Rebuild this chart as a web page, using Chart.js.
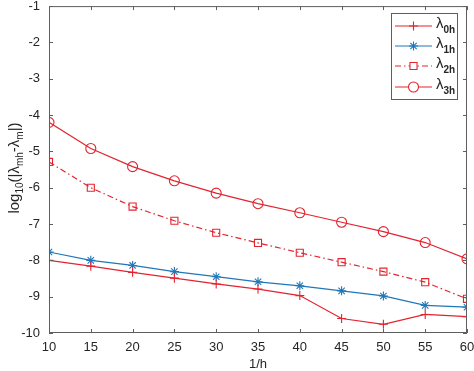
<!DOCTYPE html>
<html><head><meta charset="utf-8">
<script src="https://cdn.jsdelivr.net/npm/chart.js@4"></script>
<style>html,body{margin:0;padding:0;background:#fff}#w{width:474px;height:371px}</style>
</head><body><div id="w"><canvas id="c"></canvas></div>
<script>
const xs = [10,15,20,25,30,35,40,45,50,55,60];
const lam0 = [-8.0,-8.16,-8.33,-8.49,-8.65,-8.79,-8.97,-9.6,-9.76,-9.49,-9.55];
const lam1 = [-7.77,-8.0,-8.14,-8.31,-8.45,-8.59,-8.7,-8.84,-8.98,-9.24,-9.29];
const lam2 = [-5.29,-6.0,-6.52,-6.91,-7.24,-7.52,-7.79,-8.05,-8.31,-8.6,-9.06];
const lam3 = [-4.2,-4.92,-5.42,-5.81,-6.15,-6.44,-6.69,-6.95,-7.21,-7.51,-7.96];
const xTicks = [10,15,20,25,30,35,40,45,50,55,60];
const yTicks = [-10,-9,-8,-7,-6,-5,-4,-3,-2,-1];
const names = [['λ','0h'],['λ','1h'],['λ','2h'],['λ','3h']];

const RED = '#e3242f', BLUE = '#1f77b9', AX = '#5e5e5e', TXT = '#262626';
const FONT = '"Liberation Sans", Arial, sans-serif';

const mk = (d, c, style, r, dash) => ({
  data: xs.map((x,i)=>({x, y:d[i]})), borderColor:c, backgroundColor:'rgba(0,0,0,0)',
  pointBackgroundColor:'rgba(0,0,0,0)', pointBorderColor:c, pointStyle:style, pointRadius:r,
  pointBorderWidth:1.1, borderWidth:1.2, borderDash:dash||[], tension:0, fill:false
});
const datasets = [
  mk(lam0, RED, 'cross', 4.5),
  mk(lam1, BLUE, 'star', 4.5),
  mk(lam2, RED, 'rect', 5, [6,3,1.5,3]),
  mk(lam3, RED, 'circle', 5)
];

const deco = {
  id:'deco',
  afterDraw(ch){
    const ctx = ch.ctx, a = ch.chartArea, sx = ch.scales.x, sy = ch.scales.y;
    ctx.save();
    ctx.strokeStyle = AX; ctx.lineWidth = 1;
    ctx.strokeRect(a.left+0.5, a.top+0.5, a.right-a.left-1, a.bottom-a.top-1);
    ctx.beginPath();
    const tl = 4;
    xTicks.forEach(v=>{ const p=Math.round(sx.getPixelForValue(v))+0.5;
      ctx.moveTo(p,a.bottom); ctx.lineTo(p,a.bottom-tl); ctx.moveTo(p,a.top); ctx.lineTo(p,a.top+tl); });
    yTicks.forEach(v=>{ const p=Math.round(sy.getPixelForValue(v))+0.5;
      ctx.moveTo(a.left,p); ctx.lineTo(a.left+tl,p); ctx.moveTo(a.right,p); ctx.lineTo(a.right-tl,p); });
    ctx.stroke();
    // y title
    ctx.fillStyle = TXT;
    ctx.translate(15, 168); ctx.rotate(-Math.PI/2);
    const parts = [['log',15,0],['10',10,5],['(|λ',15,0],['mh',10,5],['-λ',15,0],['m',10,5],['|)',15,0]];
    ctx.textBaseline='middle'; ctx.textAlign='left';
    let tw=0; parts.forEach(p=>{ctx.font=p[1]+'px '+FONT; tw+=ctx.measureText(p[0]).width;});
    let x=-tw/2;
    parts.forEach(p=>{ctx.font=p[1]+'px '+FONT; ctx.fillText(p[0],x,p[2]); x+=ctx.measureText(p[0]).width;});
    ctx.restore();
    // legend
    ctx.save();
    const L=391, T=13, W=66, H=86;
    ctx.fillStyle='#fff'; ctx.fillRect(L,T,W,H);
    ctx.strokeStyle=AX; ctx.lineWidth=1; ctx.strokeRect(L+0.5,T+0.5,W,H);
    const rows=[26,46,66,87];
    datasets.forEach((ds,i)=>{
      const y=rows[i];
      ctx.strokeStyle=ds.borderColor; ctx.lineWidth=ds.borderWidth; ctx.setLineDash(ds.borderDash);
      ctx.beginPath(); ctx.moveTo(395,y); ctx.lineTo(432,y); ctx.stroke(); ctx.setLineDash([]);
      ctx.lineWidth=ds.pointBorderWidth; ctx.fillStyle='#fff'; ctx.strokeStyle=ds.pointBorderColor;
      Chart.helpers.drawPoint(ctx,{pointStyle:ds.pointStyle,radius:ds.pointRadius,borderWidth:ds.pointBorderWidth},413.5,y);
      ctx.fillStyle=TXT; ctx.textBaseline='middle'; ctx.textAlign='left';
      ctx.font='15px '+FONT; ctx.fillText(names[i][0],436,y-2);
      const w=ctx.measureText(names[i][0]).width;
      ctx.font='bold 10px '+FONT; ctx.fillText(names[i][1],436+w,y+4);
    });
    ctx.restore();
    // x title
    ctx.save(); ctx.fillStyle=TXT; ctx.font='13px '+FONT; ctx.textAlign='center'; ctx.textBaseline='middle';
    ctx.fillText('1/h',(a.left+a.right)/2,364); ctx.restore();
  }
};

new Chart(document.getElementById('c'), {
  type:'line',
  data:{datasets},
  options:{
    responsive:true, maintainAspectRatio:false, animation:false,
    layout:{padding:{top:4,right:7,left:0,bottom:0}},
    plugins:{legend:{display:false},tooltip:{enabled:false}},
    scales:{
      x:{type:'linear',min:10,max:60,
        afterBuildTicks:s=>{s.ticks=xTicks.map(v=>({value:v}));},
        afterFit:s=>{s.height=38; s.paddingLeft=0; s.paddingRight=0;},
        grid:{display:false,drawTicks:false}, border:{display:false},
        ticks:{color:TXT,font:{size:13,family:FONT},padding:7,maxRotation:0}},
      y:{type:'linear',min:-10,max:-1,
        afterBuildTicks:s=>{s.ticks=yTicks.map(v=>({value:v}));},
        afterFit:s=>{s.width=49; s.paddingTop=0; s.paddingBottom=0;},
        grid:{display:false,drawTicks:false}, border:{display:false},
        ticks:{color:TXT,font:{size:13,family:FONT},padding:9}}
    }
  },
  plugins:[deco]
});
</script></body></html>
